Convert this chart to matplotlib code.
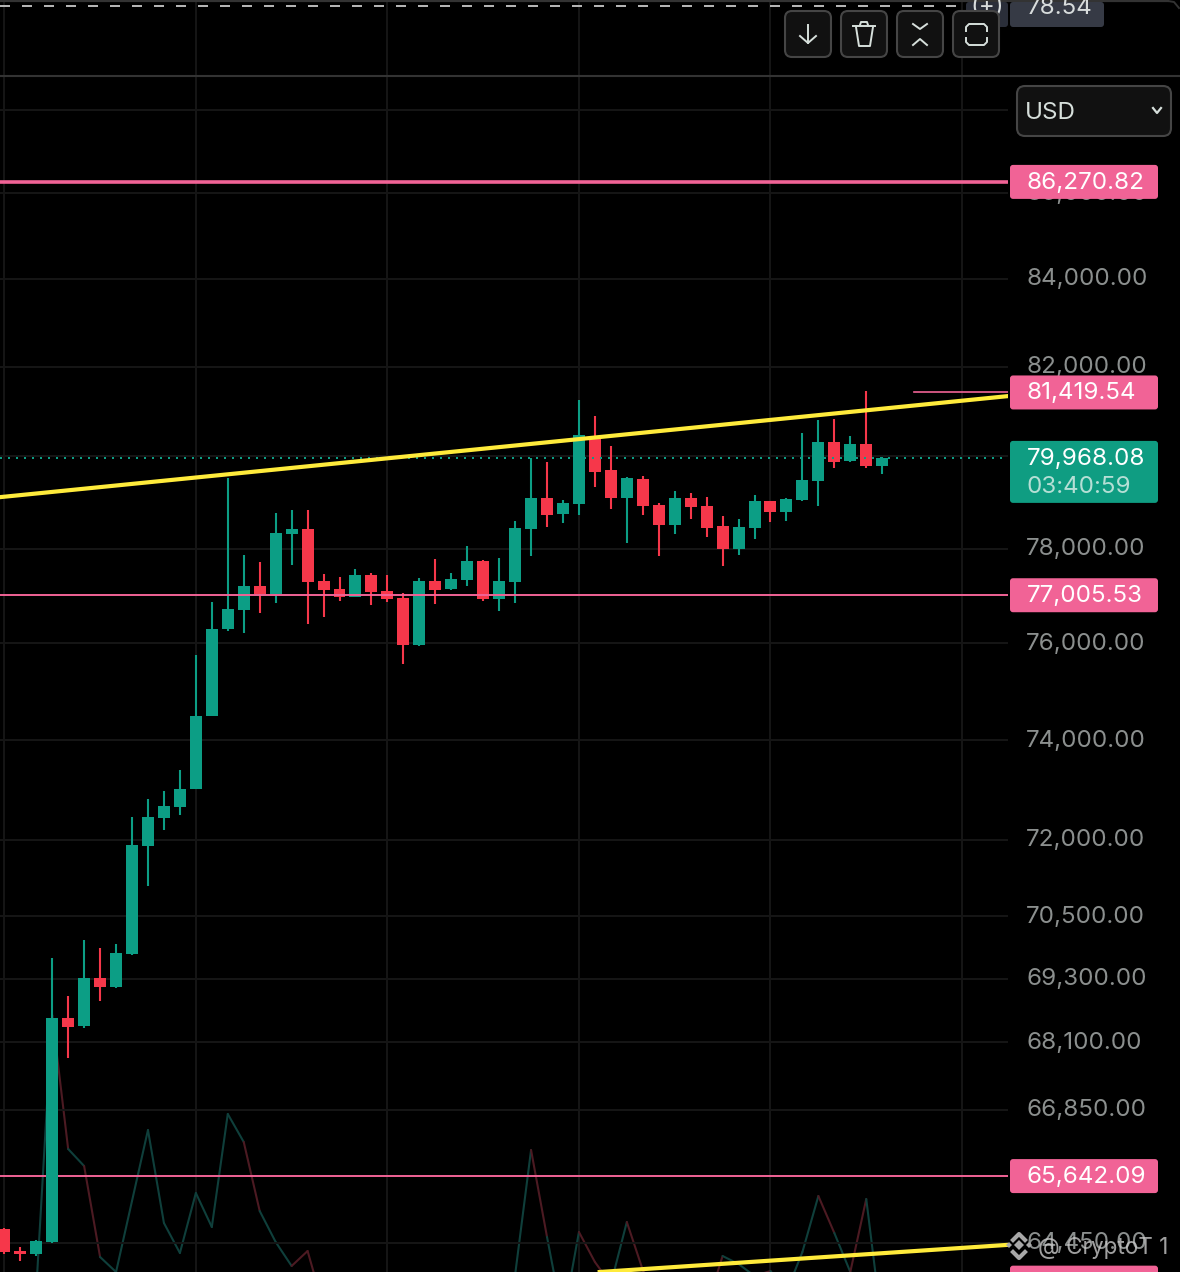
import numpy as np
import matplotlib
matplotlib.use("Agg")
import matplotlib.pyplot as plt
from matplotlib.patches import FancyBboxPatch, Polygon
from matplotlib.ticker import FixedLocator, NullLocator
from matplotlib.transforms import ScaledTranslation

plt.rcParams['font.family'] = ['Inter', 'DejaVu Sans']

# daily candles
opens = [64701,64311,64257,64470,68548,68416,69306,69135,69765,71868,72424,72643,73004,74484,
         76288,76688,77196,77026,78307,78415,77302,77132,76962,77429,77089,76941,75953,77302,
         77132,77323,77728,76920,77280,78415,79087,78739,78956,80447,79698,79087,79501,78935,
         78502,79087,78913,78480,77985,78437,79021,78783,79043,79457,80314,79896,80270,79786]
highs = [64719,64381,64505,69688,68964,70034,69880,69957,72444,72803,72964,73386,75744,76857,
         79523,77856,77707,78761,78826,78826,77451,77387,77557,77472,77429,77047,77366,77771,
         77472,78049,77749,77792,78588,79961,79874,79043,81247,80890,80226,79545,79567,78978,
         79239,79195,79108,78696,78631,79152,79021,79087,80513,80802,80824,80447,81449,79983]
lows = [64257,64134,64222,64452,67816,68378,68869,69116,69746,71082,72185,72484,73004,74484,
        76246,76204,76624,76835,77643,76393,76540,76878,76962,76793,76857,75557,75932,76814,
        77111,77196,76878,76667,76835,77835,78458,78545,78718,79326,78848,78114,78718,77835,
        78307,78631,78243,77621,77856,78200,78566,78588,79021,78913,79742,79874,79742,79610]
closes = [64293,64257,64488,68548,68397,69306,69135,69784,71888,72444,72663,73004,74484,76288,
          76709,77196,77026,78329,78415,77280,77111,76962,77429,77068,76920,75953,77302,77111,
          77344,77728,76920,77302,78437,79087,78718,78978,80469,79654,79087,79523,78913,78502,
          79087,78891,78437,77985,78458,79021,78783,79065,79479,80314,79874,80270,79786,79968]
# faint line in the lower part of the pane, most of it runs below the crop
volumes = [70,70,110,385,251,234,143,128,199,270,177,147,207,173,
           286,258,189,158,134,149,93,90,70,80,65,75,100,85,
           70,60,80,90,125,250,163,80,168,138,116,178,130,95,
           75,85,93,144,136,124,129,108,148,204,167,128,201,72]

scale_prices = [88000,86000,84000,82000,80000,78000,76000,74000,72000,70500,69300,68100,66850,64450]
level_thick = 86270.82
level_thin = [77005.53]
level_low = 65642.09
level_short = 81419.54
last_price = 79968.08
countdown = "03:40:59"
tag_prices = [86270.82, 81419.54, 77005.53, 65642.09, 63747.00]
trend_upper_x = [-0.27, 62.88]
trend_upper_y = [79110, 81338]
trend_lower_x = [37.3, 62.88]
trend_lower_y = [63934, 64413]
time_grid = [0, 12, 24, 36, 48, 60]

UP = '#0c9e85'
DOWN = '#f6374a'
PINK = '#f16396'
YELLOW = '#ffeb3b'
GRID = '#161616'
W, H = 1180, 1272
PANE_R, PANE_T = 1008, 76
FS = 17.4

x = np.arange(len(opens))
opens = np.array(opens, dtype=float)
closes = np.array(closes, dtype=float)
up = closes >= opens
xlim = (-0.27, 62.88)

fig = plt.figure(figsize=(W / 100, H / 100), dpi=100, facecolor='black')
pos = [0, 0, PANE_R / W, (H - PANE_T) / H]

# strip above the separator only carries the time grid
ax_top = fig.add_axes([0, (H - PANE_T) / H, PANE_R / W, PANE_T / H], facecolor='black')
ax_top.set_xlim(xlim)
ax_top.axis('off')
for t in time_grid:
    ax_top.axvline(t, color=GRID, lw=1.4)

# back axes: time grid + volume
ax_vol = fig.add_axes(pos, facecolor='black', zorder=1)
ax_vol.set_xlim(xlim)
ax_vol.set_ylim(128, 1324)
ax_vol.axis('off')
for t in time_grid:
    ax_vol.axvline(t, color=GRID, lw=1.4, zorder=0)
for i in range(1, len(volumes)):
    ax_vol.plot(x[i - 1:i + 1], volumes[i - 1:i + 1], color='#0f3f3b' if up[i] else '#4c1a22',
                lw=1.5, solid_capstyle='round', zorder=1)

# price axes
ax = fig.add_axes(pos, zorder=2)
ax.patch.set_visible(False)
ax.set_yscale('log')
ax.set_xlim(xlim)
ax.set_ylim(63934, 88819)
ax.yaxis.set_major_locator(FixedLocator(scale_prices))
ax.yaxis.set_minor_locator(NullLocator())
ax.yaxis.tick_right()
ax.set_yticklabels(['{:,.2f}'.format(p) for p in scale_prices])
ax.tick_params(axis='y', length=0, pad=13.0, labelsize=FS, labelcolor='#8b8f8e')
# labels sit a little above their grid line
nudge = ScaledTranslation(0, 0.02, fig.dpi_scale_trans)
for tk in ax.yaxis.get_major_ticks():
    tk.label2.set_transform(tk.label2.get_transform() + nudge)
ax.set_xticks([])
ax.grid(axis='y', color=GRID, lw=1.4, zorder=0)
ax.set_axisbelow(True)
for s in ax.spines.values():
    s.set_visible(False)

colors = [UP if u else DOWN for u in up]
ax.axhline(level_low, color=PINK, lw=1.4, zorder=2)
ax.vlines(x, lows, highs, colors=colors, lw=1.5, zorder=3)
ax.bar(x, np.abs(closes - opens), bottom=np.minimum(opens, closes), width=0.75, color=colors,
       linewidth=0, zorder=3)

ax.axhline(level_thick, color=PINK, lw=2.6, zorder=4)
for lv in level_thin:
    ax.axhline(lv, color=PINK, lw=1.4, zorder=4)
ax.plot([57, xlim[1]], [level_short, level_short], color=PINK, lw=1.2, zorder=4)
ax.plot(xlim, [last_price, last_price], color=UP, lw=1.44, ls=(0, (1, 3)), zorder=4)
ax.plot(trend_upper_x, trend_upper_y, color=YELLOW, lw=3, zorder=5)
ax.plot(trend_lower_x, trend_lower_y, color=YELLOW, lw=3, zorder=5)

# everything that sits on top of the chart, in screen pixels
ui = fig.add_axes([0, 0, 1, 1], zorder=10)
ui.patch.set_visible(False)
ui.set_xlim(0, W)
ui.set_ylim(H, 0)
ui.axis('off')


def price_y(p):
    return H - ax.transData.transform((0, p))[1]


def box(x0, y0, x1, y1, fc, ec='none', r=3, lw=0, z=2):
    ui.add_patch(FancyBboxPatch((x0 + r, y0 + r), x1 - x0 - 2 * r, y1 - y0 - 2 * r,
                                boxstyle='round,pad=%g,rounding_size=%g' % (r, r),
                                fc=fc, ec=ec, lw=lw, zorder=z))


for p in tag_prices:
    yc = price_y(p)
    box(1010, yc - 17, 1158, yc + 17, PINK)
    ui.text(1027, yc + 1, '{:,.2f}'.format(p), color='white', fontsize=FS, va='center', zorder=3)

yc = price_y(last_price)
box(1010, yc - 17, 1158, yc + 45, '#0f9d82')
ui.text(1027, yc + 1, '{:,.2f}'.format(last_price), color='white', fontsize=FS, va='center', zorder=3)
ui.text(1027, yc + 29, countdown, color='#b5dfd5', fontsize=FS, va='center', zorder=3)

# top strip
ui.plot([0, 1168], [1, 1], color='#333333', lw=1.6, zorder=1)
ui.plot([1168, 1174, 1179], [1, 2, 8], color='#333333', lw=1.4, zorder=1)
ui.plot([0, 958], [6, 6], color='#b4b4b4', lw=1.44, dashes=(5, 6), dash_capstyle='butt', zorder=1)
ui.plot([0, W], [76, 76], color='#333333', lw=1.5, zorder=1)
box(966, 2, 1008, 27, '#2a2e39', z=1)
ui.text(987, 7, '(+)', color='#d8dcdc', fontsize=FS, ha='center', va='center', zorder=1.5, clip_on=True)
box(1010, 2, 1104, 27, '#363a45', z=1)
ui.text(1060, 8, '78.54', color='#d8dcdc', fontsize=FS, ha='center', va='center', zorder=1.5, clip_on=True)

# toolbar buttons
ICON = '#d6dfdb'
for x0 in [785, 841, 897, 953]:
    box(x0, 11, x0 + 46, 57, '#111111', ec='#454545', r=7, lw=1.5, z=2)
arrow = [[(808, 25), (808, 43)], [(800, 36), (808, 43), (816, 36)]]
trash = [[(853, 26), (875, 26)], [(860, 25), (861, 22), (867, 22), (868, 25)],
         [(856, 27), (859, 46), (870, 46), (873, 27)]]
chevrons = [[(913, 24), (920, 29), (927, 24)], [(913, 45), (920, 39), (927, 45)]]
frame = [[(966, 31), (966, 27), (969, 24), (984, 24), (987, 27), (987, 31)],
         [(966, 38), (966, 42), (969, 45), (984, 45), (987, 42), (987, 38)]]
for shape in arrow + trash + chevrons + frame:
    xs, ys = zip(*shape)
    ui.plot(xs, ys, color=ICON, lw=1.4, zorder=3)

# currency picker
box(1017, 86, 1171, 136, '#111111', ec='#454545', r=8, lw=1.5, z=2)
ui.text(1025, 113, 'USD', color='#d6dfdb', fontsize=FS, va='center', zorder=3)
ui.plot([1153, 1157, 1161], [108, 113, 108], color=ICON, lw=1.6, zorder=3)

# watermark
MARK = '#a8a8a8'
ui.plot([1013, 1019, 1025], [1240, 1234, 1240], color=MARK, lw=3, zorder=6)
ui.plot([1013, 1019, 1025], [1252, 1258, 1252], color=MARK, lw=3, zorder=6)
ui.add_patch(Polygon([(1019, 1240), (1024, 1245), (1019, 1250), (1014, 1245)], fc=MARK, ec='none', zorder=6))
ui.add_patch(Polygon([(1009, 1242), (1012, 1245), (1009, 1248), (1006, 1245)], fc=MARK, ec='none', zorder=6))
ui.add_patch(Polygon([(1029, 1242), (1032, 1245), (1029, 1248), (1026, 1245)], fc=MARK, ec='none', zorder=6))
ui.text(1038, 1248, '@ CryptoT 1', color='#c8c8c8', alpha=0.8, fontsize=16.2, va='center', zorder=6)

fig.savefig('out.png', dpi=100, facecolor='black')
